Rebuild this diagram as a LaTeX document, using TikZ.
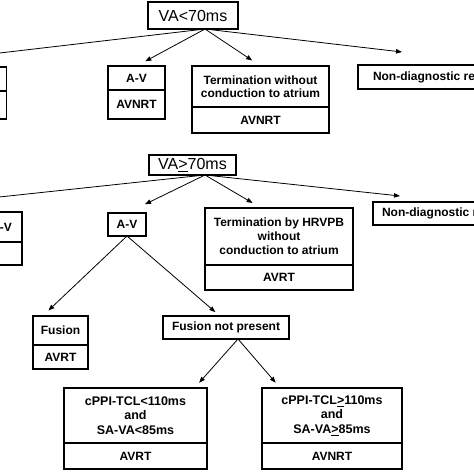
\documentclass[tikz,border=0pt]{standalone}
\usepackage{fontspec}
\setmainfont{Liberation Sans}
\usetikzlibrary{positioning,arrows.meta}

\begin{document}
\begin{tikzpicture}[x=1pt,y=-1pt,
    box/.style={draw,line width=1.1pt,outer sep=0pt,inner sep=0pt,align=center,
      font=\fontsize{12}{14}\selectfont\bfseries},
    hdr/.style={draw,line width=1.1pt,outer sep=0pt,inner sep=0pt,
      font=\fontsize{16}{18}\selectfont},
    arr/.style={-{Triangle[length=6pt,width=4.5pt]},line width=0.8pt}]
                \useasboundingbox (0,0) rectangle (474,474);
                \clip (0,0) rectangle (474,474);
                \node[hdr,minimum width=90pt,minimum height=27pt] (va1) at (193,15.5) {VA<70ms};
                \node[box,anchor=north east,minimum width=253pt,minimum height=24pt] (aav1) at (6.5,67) {};
                \node[box,below=0pt of aav1,minimum width=253pt,minimum height=28pt] (at1) {};
                \node[box,minimum width=57pt,minimum height=24pt] (av1) at (136.5,78) {A-V};
                \node[box,below=0pt of av1,minimum width=57pt,minimum height=29pt] (av1r) {AVNRT};
                \node[box,minimum width=137pt,minimum height=41pt,
                  font=\fontsize{12}{13.5}\selectfont\bfseries] (tw1) at (260.5,86.5) {Termination without\\conduction to atrium};
                \node[box,below=0pt of tw1,minimum width=137pt,minimum height=26pt] (tw1r) {AVNRT};
                \node[box,anchor=west,inner xsep=15pt,minimum height=24pt] (nd1) at (358,77) {Non-diagnostic response};
                \coordinate (o1) at ([xshift=12pt]va1.south);
                \coordinate (nd1tip) at (402,52);
                \draw[arr,shorten >=8pt] (o1) -- (aav1.north);
                \draw[arr,shorten >=10pt] (o1) -- (av1.north);
                \draw[arr,shorten >=10pt] (o1) -- (tw1.north);
                \draw[arr] (o1) -- (nd1tip);

                \node[hdr,minimum width=87pt,minimum height=20pt] (va2) at (192.5,165) {VA\underline{>}70ms};
                \node[box,anchor=north east,text width=306pt,align=right,inner xsep=10pt,minimum height=30pt] (aav2) at (22,212) {A-A-V};
                \node[box,below=0pt of aav2,minimum width=326pt,minimum height=23pt] (at2) {};
                \node[box,minimum width=38pt,minimum height=23pt] (av2) at (127,224.5) {A-V};
                \node[box,minimum width=148pt,minimum height=57pt] (th2) at (279,236.5) {Termination by HRVPB\\without\\conduction to atrium};
                \node[box,below=0pt of th2,minimum width=148pt,minimum height=25pt] (th2r) {AVRT};
                \node[box,anchor=west,inner xsep=9pt,minimum height=23pt] (nd2) at (373,213.5) {Non-diagnostic response};
                \coordinate (o2) at ([xshift=12.5pt]va2.south);
                \coordinate (nd2tip) at (400,196);
                \draw[arr,shorten >=8pt] (o2) -- (aav2.north);
                \draw[arr,shorten >=20pt] (o2) -- (av2.north);
                \draw[arr,shorten >=10pt] (o2) -- (th2.122);
                \draw[arr] (o2) -- (nd2tip);

                \node[box,minimum width=55pt,minimum height=29pt] (fus) at (60.5,330.5) {Fusion};
                \node[box,below=0pt of fus,minimum width=55pt,minimum height=24pt] (fusr) {AVRT};
                \node[box,minimum width=126pt,minimum height=23pt] (fnp) at (226,327.5) {Fusion not present};
                \draw[arr,shorten >=8pt] (av2.south) -- (fus.141);
                \draw[arr,shorten >=6pt] (av2.south) -- (fnp.118);

                \node[box,minimum width=143pt,minimum height=55pt,
                  font=\fontsize{12.5}{14.5}\selectfont\bfseries] (cl) at (135.5,415.5) {cPPI-TCL<110ms\\and\\SA-VA<85ms};
                \node[box,below=0pt of cl,minimum width=143pt,minimum height=26pt] (clr) {AVRT};
                \node[box,minimum width=140pt,minimum height=55pt,
                  font=\fontsize{12.5}{14.5}\selectfont\bfseries] (cr) at (332,415.5) {cPPI-TCL\underline{>}110ms\\and\\SA-VA\underline{>}85ms};
                \node[box,below=0pt of cr,minimum width=140pt,minimum height=26pt] (crr) {AVNRT};
                \coordinate (o3) at ([xshift=12pt]fnp.south);
                \draw[arr,shorten >=7pt] (o3) -- (cl.25);
                \draw[arr,shorten >=7pt] (o3) -- (cr.152);
            \end{tikzpicture}
\end{document}
